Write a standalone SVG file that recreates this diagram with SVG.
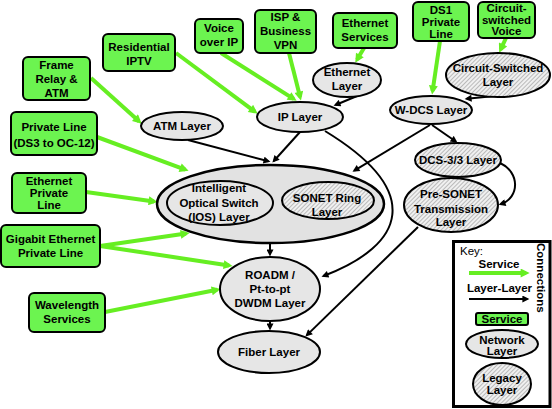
<svg xmlns="http://www.w3.org/2000/svg" width="552" height="409" viewBox="0 0 552 409">
<style>
text{font-family:"Liberation Sans",Arial,sans-serif;font-size:11.5px;font-weight:bold;fill:#000;text-anchor:middle}
.svc{fill:#6cf450;stroke:#000;stroke-width:2}
.net{fill:#e6e6e6;stroke:#000;stroke-width:2}
.leg{fill:url(#hatch);stroke:#000;stroke-width:2}
.g{fill:none;stroke:#66ee22;stroke-width:4;marker-end:url(#ag)}
.b{fill:none;stroke:#000;stroke-width:2;marker-end:url(#ab)}
</style>
<defs>
<pattern id="hatch" width="3" height="3" patternUnits="userSpaceOnUse" patternTransform="rotate(45)">
<rect width="3" height="3" fill="#f0f0f0"/>
<line x1="0.5" y1="0" x2="0.5" y2="3" stroke="#b4b4b4" stroke-width="0.9"/>
</pattern>
<marker id="ag" viewBox="0 0 10 10" refX="6" refY="5" markerWidth="11" markerHeight="9" orient="auto" markerUnits="userSpaceOnUse">
<path d="M0,0 L10,5 L0,10 z" fill="#66ee22"/>
</marker>
<marker id="ab" viewBox="0 0 10 10" refX="7" refY="5" markerWidth="9" markerHeight="7" orient="auto" markerUnits="userSpaceOnUse">
<path d="M0,0 L10,5 L0,10 z" fill="#000"/>
</marker>
</defs>
<rect width="552" height="409" fill="#fff"/>

<g id="connectors">
<line class="g" x1="91" y1="78" x2="139" y2="121.3"/>
<line class="g" x1="176" y1="53" x2="254.8" y2="111.6"/>
<line class="g" x1="221" y1="53" x2="293.6" y2="98.9"/>
<line class="g" x1="289" y1="53" x2="300.1" y2="97.1"/>
<line class="g" x1="364" y1="48" x2="357.1" y2="59.6"/>
<line class="g" x1="440" y1="41" x2="432.6" y2="91"/>
<line class="g" x1="506" y1="38" x2="500.7" y2="49.4"/>
<line class="g" x1="97" y1="137" x2="185.2" y2="169.6"/>
<line class="g" x1="86" y1="192" x2="154" y2="201.5"/>
<line class="g" x1="100" y1="246" x2="186" y2="233.6"/>
<line class="g" x1="100" y1="246" x2="229" y2="265.4"/>
<line class="g" x1="105" y1="312" x2="217.1" y2="289.8"/>

<line class="b" x1="357" y1="96" x2="335.5" y2="105"/>
<line class="b" x1="505" y1="95" x2="466.7" y2="98.7"/>
<line class="b" x1="432" y1="125" x2="455.8" y2="141.5"/>
<line class="b" x1="430" y1="125" x2="354.3" y2="170.6"/>
<line class="b" x1="188" y1="140" x2="268.4" y2="161.3"/>
<line class="b" x1="300" y1="132" x2="273.8" y2="161"/>
<path class="b" d="M325,131 C425,192 405,245 323.5,276"/>
<path class="b" d="M500,163 C520,172 520,198 500.6,204.2"/>
<line class="b" x1="418" y1="227" x2="306.9" y2="335.1"/>
<line class="b" x1="270" y1="243" x2="270" y2="254.3"/>
<line class="b" x1="270" y1="321" x2="270" y2="328.3"/>
</g>

<g id="svc-frame-relay"><rect class="svc" x="23" y="57" width="67" height="43" rx="5"/>
<text x="56.5" y="68.5">Frame</text><text x="56.5" y="82.5">Relay &amp;</text><text x="56.5" y="96.5">ATM</text></g>
<g id="svc-iptv"><rect class="svc" x="103" y="34" width="72" height="37" rx="5"/>
<text x="139" y="51">Residential</text><text x="139" y="64.5">IPTV</text></g>
<g id="svc-voip"><rect class="svc" x="195" y="19" width="48" height="34" rx="5"/>
<text x="219" y="32">Voice</text><text x="219" y="46">over IP</text></g>
<g id="svc-isp"><rect class="svc" x="255" y="10" width="61" height="43" rx="5"/>
<text x="285.5" y="21">ISP &amp;</text><text x="285.5" y="35">Business</text><text x="285.5" y="49">VPN</text></g>
<g id="svc-ethernet"><rect class="svc" x="333" y="13" width="64" height="35" rx="5"/>
<text x="365" y="27">Ethernet</text><text x="365" y="41">Services</text></g>
<g id="svc-ds1"><rect class="svc" x="413" y="2" width="56" height="39" rx="5"/>
<text x="441" y="14">DS1</text><text x="441" y="26">Private</text><text x="441" y="38">Line</text></g>
<g id="svc-csvoice"><rect class="svc" x="478" y="2" width="57" height="36" rx="5"/>
<text x="506.5" y="11.5">Circuit-</text><text x="506.5" y="23.5">switched</text><text x="506.5" y="35">Voice</text></g>
<g id="svc-private-line"><rect class="svc" x="11" y="112" width="86" height="43" rx="5"/>
<text x="54" y="131">Private Line</text><text x="54" y="147">(DS3 to OC-12)</text></g>
<g id="svc-eth-pl"><rect class="svc" x="12" y="173" width="74" height="40" rx="5"/>
<text x="49" y="185">Ethernet</text><text x="49" y="197">Private</text><text x="49" y="209">Line</text></g>
<g id="svc-gige"><rect class="svc" x="1" y="225" width="99" height="42" rx="5"/>
<text x="50.5" y="243">Gigabit Ethernet</text><text x="50.5" y="257">Private Line</text></g>
<g id="svc-wavelength"><rect class="svc" x="29" y="293" width="76" height="39" rx="5"/>
<text x="67" y="309">Wavelength</text><text x="67" y="323">Services</text></g>

<g id="atm-layer"><ellipse class="net" cx="182" cy="126" rx="41" ry="14"/><text x="182" y="130">ATM Layer</text></g>
<g id="ip-layer"><ellipse class="net" cx="300" cy="117" rx="43" ry="15"/><text x="300" y="121">IP Layer</text></g>
<g id="ethernet-layer"><ellipse class="net" cx="347" cy="80" rx="34" ry="17"/><text x="347" y="76">Ethernet</text><text x="347" y="90">Layer</text></g>
<g id="wdcs-layer"><ellipse class="net" cx="431" cy="110" rx="41" ry="14"/><text x="431" y="114">W-DCS Layer</text></g>
<g id="cs-layer"><ellipse class="leg" cx="498" cy="75" rx="52" ry="22"/><text x="498" y="72">Circuit-Switched</text><text x="498" y="86">Layer</text></g>
<g id="dcs33-layer"><ellipse class="leg" cx="458" cy="160" rx="43" ry="17"/><text x="458" y="164">DCS-3/3 Layer</text></g>
<g id="presonet-layer"><ellipse class="leg" cx="451" cy="205" rx="47" ry="27"/><text x="451" y="198">Pre-SONET</text><text x="451" y="212.5">Transmission</text><text x="451" y="226">Layer</text></g>
<g id="ios-group"><ellipse class="net" cx="270.5" cy="204" rx="113.5" ry="39" style="fill:#e2e2e2;stroke-width:2.5"/></g>
<g id="ios-layer"><ellipse class="net" cx="220" cy="203" rx="53" ry="22"/><text x="219" y="192">Intelligent</text><text x="219" y="207">Optical Switch</text><text x="219" y="221">(IOS) Layer</text></g>
<g id="sonet-ring"><ellipse class="leg" cx="328" cy="200.5" rx="46" ry="18.5"/><text x="327" y="202">SONET Ring</text><text x="327" y="216">Layer</text></g>
<g id="roadm-layer"><ellipse class="net" cx="270" cy="289" rx="50" ry="32"/><text x="270" y="279">ROADM /</text><text x="270" y="293">Pt-to-pt</text><text x="270" y="307">DWDM Layer</text></g>
<g id="fiber-layer"><ellipse class="net" cx="269" cy="352" rx="51" ry="21"/><text x="269" y="356">Fiber Layer</text></g>

<g id="key">
<rect x="453.5" y="241.5" width="96.5" height="165" fill="#fff" stroke="#000" stroke-width="3"/>
<text x="460" y="255" style="font-weight:normal;text-anchor:start">Key:</text>
<text x="499" y="268">Service</text>
<line class="g" x1="469" y1="273" x2="526" y2="273"/>
<text x="499.5" y="292">Layer-Layer</text>
<line class="b" x1="469" y1="299" x2="527.3" y2="299"/>
<text transform="translate(537,243) rotate(90)" style="text-anchor:start">Connections</text>
<rect class="svc" x="476" y="313" width="52" height="12" rx="2"/>
<text x="502" y="323">Service</text>
<ellipse class="net" cx="502" cy="344" rx="36" ry="14"/>
<text x="502" y="343.5">Network</text><text x="502" y="354.5">Layer</text>
<ellipse class="leg" cx="502" cy="384" rx="29" ry="21"/>
<text x="502" y="381.5">Legacy</text><text x="502" y="394">Layer</text>
</g>
</svg>
